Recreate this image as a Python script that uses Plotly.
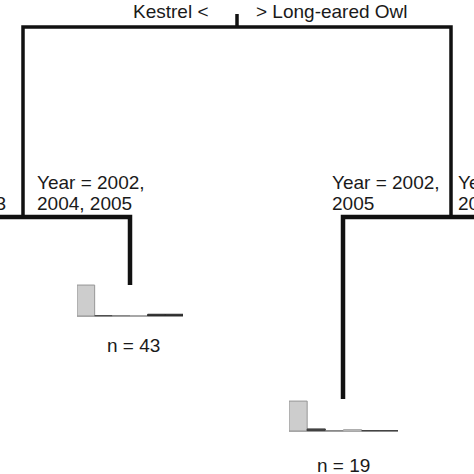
import plotly.graph_objects as go

# ---- data ----
categories = ["c1", "c2", "c3", "c4", "c5", "c6"]
leaf_a_values = [0.91, 0.0, 0.0, 0.0, 0.05, 0.05]   # n = 43
leaf_b_values = [0.88, 0.06, 0.0, 0.04, 0.0, 0.0]   # n = 19
bar_colors = ["#cdcdcd", "#4a4a4a", "#8a8a8a", "#c8c8c8", "#333333", "#333333"]
bar_edge_colors = ["#969696", "#3a3a3a", "#808080", "#a8a8a8", "#2a2a2a", "#2a2a2a"]
leaf_a_n = 43
leaf_b_n = 19
root_left_label = "Kestrel <"
root_right_label = "> Long-eared Owl"
left_labels = ["Year = 2002,", "2004, 2005"]
right_labels = ["Year = 2002,", "2005"]
far_right_labels = ["Year = 2003,", "2006"]
far_left_labels = ["", "2001, 2003"]

# ---- layout (pixel-like data units, y downward) ----
W = H = 474
FONT = "Liberation Sans, Arial, sans-serif"
FS = 19
root_x, root_top, root_split = 237, 14, 27
l_x, r_x, lower_split = 23, 451, 217
leaf_a_x, leaf_a_top = 130, 285
leaf_b_x, leaf_b_top = 343, 399

fig = go.Figure()

def seg(xs, ys, w):
    fig.add_trace(go.Scatter(x=xs, y=ys, mode="lines", line=dict(color="#111111", width=w),
                             hoverinfo="skip", showlegend=False, xaxis="x", yaxis="y"))

# tree edges
seg([root_x, root_x], [root_top, root_split], 3.5)
seg([l_x, l_x, r_x, r_x], [lower_split, root_split, root_split, lower_split], 3.5)
seg([-90, leaf_a_x, leaf_a_x], [lower_split, lower_split, leaf_a_top], 4.5)
seg([560, leaf_b_x, leaf_b_x], [lower_split, lower_split, leaf_b_top], 4.5)

# leaf bar charts
fig.add_trace(go.Bar(x=categories, y=leaf_a_values,
                     marker=dict(color=bar_colors, line=dict(color=bar_edge_colors, width=1)),
                     xaxis="x2", yaxis="y2", showlegend=False, hoverinfo="skip"))
fig.add_trace(go.Bar(x=categories, y=leaf_b_values,
                     marker=dict(color=bar_colors, line=dict(color=bar_edge_colors, width=1)),
                     xaxis="x3", yaxis="y3", showlegend=False, hoverinfo="skip"))

def px(v):
    return v / W

def py(v):
    return (H - v) / H

hidden = dict(showgrid=False, showticklabels=False, ticks="", showline=False, zeroline=False)
bar_y = dict(showgrid=False, showticklabels=False, ticks="", showline=False,
             zeroline=True, zerolinecolor="#a9a9a9", zerolinewidth=1.2, range=[-0.01, 1.0])

fig.update_layout(
    width=W, height=H, margin=dict(l=0, r=0, t=0, b=0),
    paper_bgcolor="white", plot_bgcolor="rgba(0,0,0,0)", bargap=0,
    xaxis=dict(range=[0, W], domain=[0, 1], **hidden),
    yaxis=dict(range=[H, 0], domain=[0, 1], **hidden),
    xaxis2=dict(domain=[px(77), px(183)], anchor="y2", **hidden),
    yaxis2=dict(domain=[py(316.3), py(282)], anchor="x2", **bar_y),
    xaxis3=dict(domain=[px(289), px(398)], anchor="y3", **hidden),
    yaxis3=dict(domain=[py(431.3), py(397)], anchor="x3", **bar_y),
)

def text(t, x, y, anchor="left"):
    fig.add_annotation(x=x, y=y, xref="x", yref="y", text=t, showarrow=False,
                       xanchor=anchor, yanchor="middle",
                       font=dict(family=FONT, size=FS, color="#1a1a1a"))

text(root_left_label, 211, 11, "right")
text(root_right_label, 254, 11, "left")
text(left_labels[0], 35, 182)
text(left_labels[1], 35, 203)
text(right_labels[0], 330, 182)
text(right_labels[1], 330, 203)
text(far_right_labels[0], 456, 182)
text(far_right_labels[1], 456, 203)
text(far_left_labels[1], 8, 203, "right")
text(f"n = {leaf_a_n}", 133, 345, "center")
text(f"n = {leaf_b_n}", 343, 465, "center")

fig.write_html("out.html", config={"displayModeBar": False, "staticPlot": True},
               post_script="document.body.style.margin='0';document.body.style.overflow='hidden';")
